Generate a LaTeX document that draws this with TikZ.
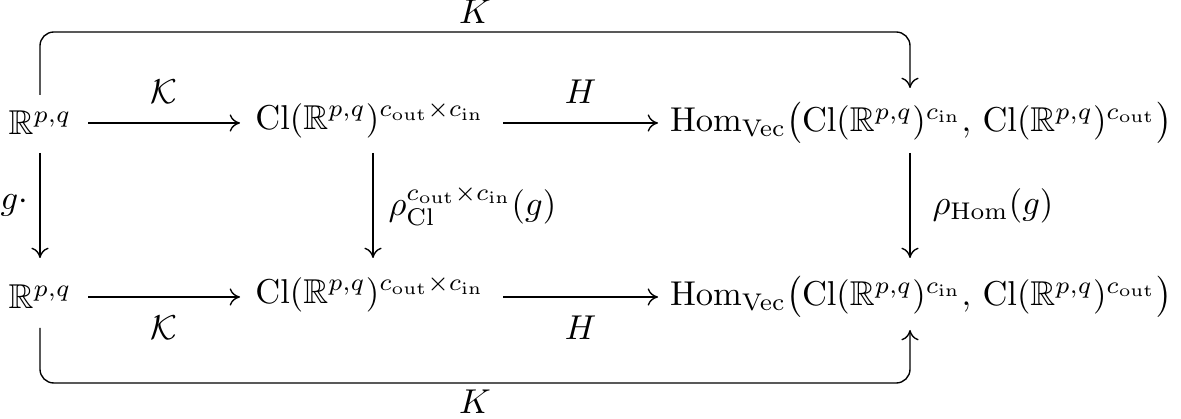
\documentclass[tikz,border=0pt]{standalone}
\usepackage{amsmath,amssymb}
\usetikzlibrary{arrows.meta}
\begin{document}
\begin{tikzpicture}[x=0.29pt,y=-0.29pt,
  arr/.style={-{To[length=3pt,width=5pt]},line width=0.4pt},
  obj/.style={inner sep=0pt}]
\useasboundingbox (0,0) rectangle (1181,419);
\node[obj] (a1) at (40,123) {$\mathbb{R}^{p,q}$};
\node[obj] (b1) at (370,120) {$\mathrm{Cl}(\mathbb{R}^{p,q})^{c_{\mathrm{out}}\times c_{\mathrm{in}}}$};
\node[obj] (c1) at (921,123) {$\mathrm{Hom}_{\mathrm{Vec}}\bigl(\mathrm{Cl}(\mathbb{R}^{p,q})^{c_{\mathrm{in}}},\,\mathrm{Cl}(\mathbb{R}^{p,q})^{c_{\mathrm{out}}}\bigr)$};
\node[obj] (a2) at (40,297) {$\mathbb{R}^{p,q}$};
\node[obj] (b2) at (370,294) {$\mathrm{Cl}(\mathbb{R}^{p,q})^{c_{\mathrm{out}}\times c_{\mathrm{in}}}$};
\node[obj] (c2) at (921,297) {$\mathrm{Hom}_{\mathrm{Vec}}\bigl(\mathrm{Cl}(\mathbb{R}^{p,q})^{c_{\mathrm{in}}},\,\mathrm{Cl}(\mathbb{R}^{p,q})^{c_{\mathrm{out}}}\bigr)$};
\coordinate (c1s) at (910,153); \coordinate (c2n) at (910,258);
\coordinate (c1t) at (910,88); \coordinate (c2b) at (910,330);
\coordinate (a1t) at (40,95); \coordinate (a2b) at (40,328);
\draw[arr] (88,123) -- node[above=2pt] {$\mathcal{K}$} (240,123);
\draw[arr] (503,123) -- node[above=2pt] {$H$} (658,123);
\draw[arr] (88,297) -- node[below=2pt] {$\mathcal{K}$} (240,297);
\draw[arr] (503,297) -- node[below=2pt] {$H$} (658,297);
\draw[arr] (40,153) -- node[left=0pt] {$g\cdot$} (40,258);
\draw[arr] (373,153) -- node[right=1pt] {$\rho_{\mathrm{Cl}}^{c_{\mathrm{out}}\times c_{\mathrm{in}}}(g)$} (373,258);
\draw[arr] (c1s) -- node[right=3pt] {$\rho_{\mathrm{Hom}}(g)$} (c2n);
\draw[arr,rounded corners=4pt] (a1t) -- (40,32) -- node[above=-1pt] {$K$} (910,32) -- (c1t);
\draw[arr,rounded corners=4pt] (a2b) -- (40,383) -- node[below=-1.5pt] {$K$} (910,383) -- (c2b);
\end{tikzpicture}
\end{document}
